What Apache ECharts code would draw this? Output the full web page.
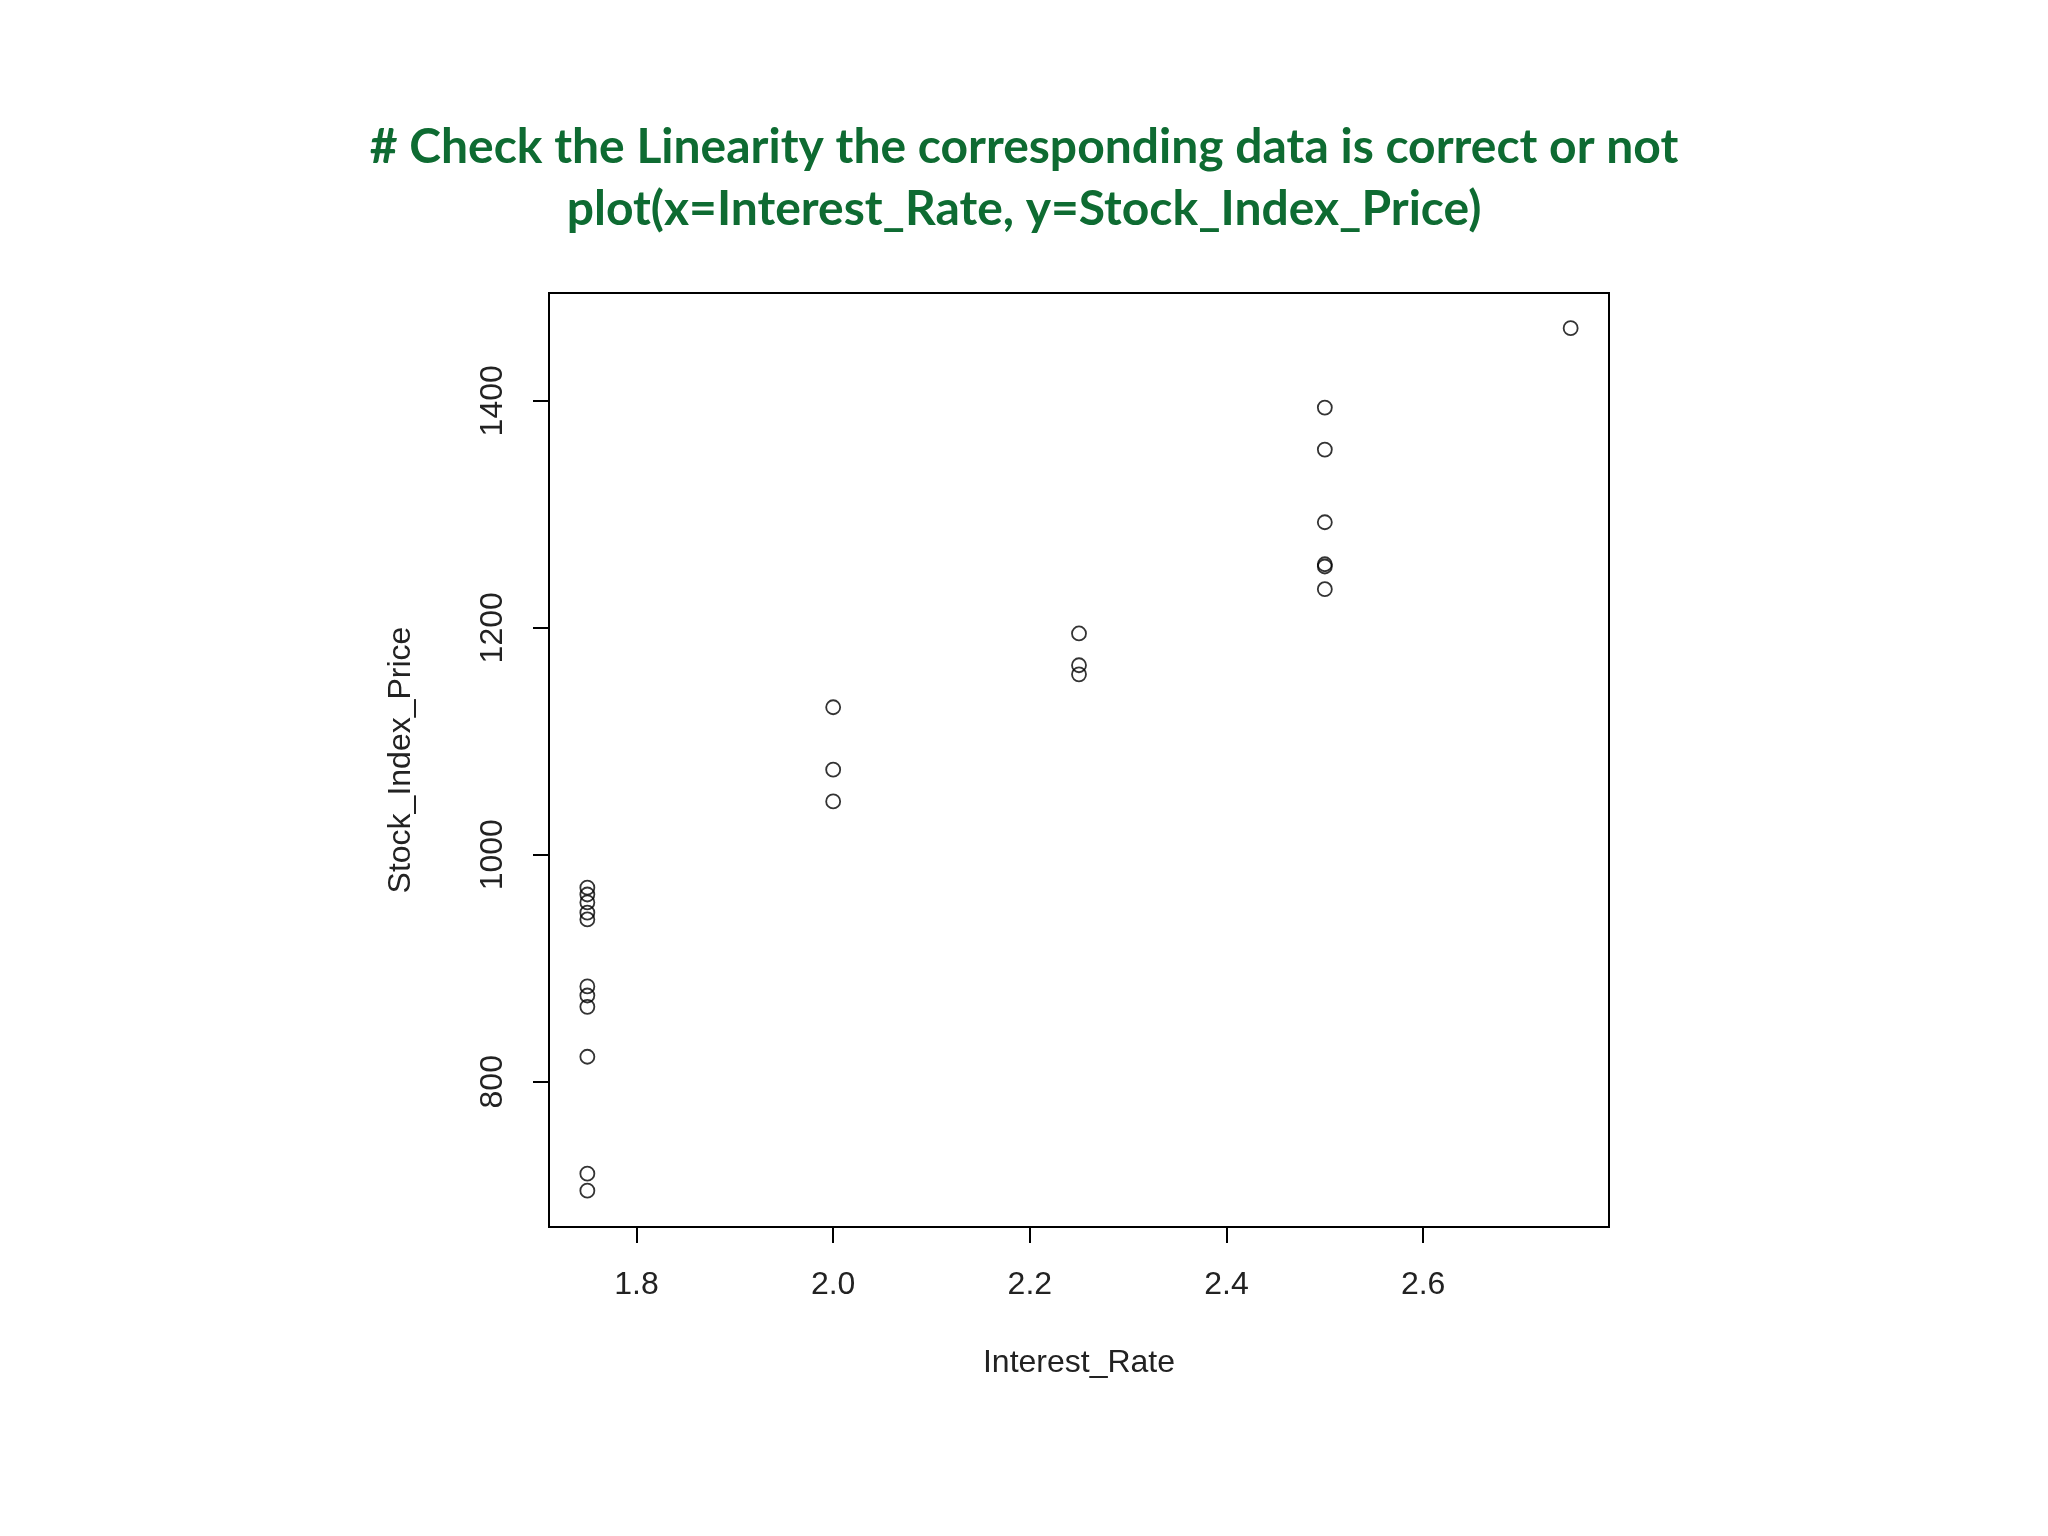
<!DOCTYPE html>
<html><head><meta charset="utf-8">
<script src="https://cdn.jsdelivr.net/npm/echarts@6/dist/echarts.min.js"></script>
<style>html,body{margin:0;background:#fff}#c{width:2048px;height:1536px}</style>
</head><body><div id="c"></div>
<script>
const interestRate = [2.75,2.5,2.5,2.5,2.5,2.5,2.5,2.25,2.25,2.25,2,2,2,1.75,1.75,1.75,1.75,1.75,1.75,1.75,1.75,1.75,1.75,1.75];
const stockIndexPrice = [1464,1394,1357,1293,1256,1254,1234,1195,1159,1167,1130,1075,1047,965,943,958,971,949,884,866,876,822,704,719];
const xTicks = [1.8,2.0,2.2,2.4,2.6];
const yTicks = [800,1000,1200,1400];
const titleLines = ['# Check the Linearity the corresponding data is correct or not','plot(x=Interest_Rate, y=Stock_Index_Price)'];
const points = interestRate.map((x,i)=>[x,stockIndexPrice[i]]);
const chart = echarts.init(document.getElementById('c'));
const axisFont = {fontFamily:'Liberation Sans, Arial', fontSize:32, color:'#222'};
chart.setOption({
  animation:false,
  backgroundColor:'#fff',
  title:{text:titleLines.join('\n'), left:'center', top:112,
    textStyle:{fontFamily:'Lato', fontWeight:'bold', fontSize:48, color:'#0e6b32', lineHeight:62}},
  grid:{left:549, right:2048-1609, top:293, bottom:1536-1227, show:true, borderColor:'#000', borderWidth:2},
  xAxis:{type:'value', min:1.711, max:2.789,
    name:'Interest_Rate', nameLocation:'middle', nameGap:120, nameTextStyle:axisFont,
    axisLine:{show:false}, splitLine:{show:false},
    axisTick:{show:true, length:16, lineStyle:{color:'#000', width:2}, customValues:xTicks},
    axisLabel:{customValues:xTicks, margin:42, formatter:v=>v.toFixed(1), ...axisFont}},
  yAxis:{type:'value', min:672, max:1495,
    name:'Stock_Index_Price', nameLocation:'middle', nameGap:132, nameTextStyle:axisFont,
    axisLine:{show:false}, splitLine:{show:false},
    axisTick:{show:true, length:16, lineStyle:{color:'#000', width:2}, customValues:yTicks},
    axisLabel:{customValues:yTicks, rotate:90, margin:40, formatter:v=>String(v), ...axisFont}},
  series:[{type:'scatter', data:points, symbol:'circle', symbolSize:14,
    itemStyle:{color:'rgba(255,255,255,0)', borderColor:'#000', borderWidth:1.8}}]
});
</script></body></html>
